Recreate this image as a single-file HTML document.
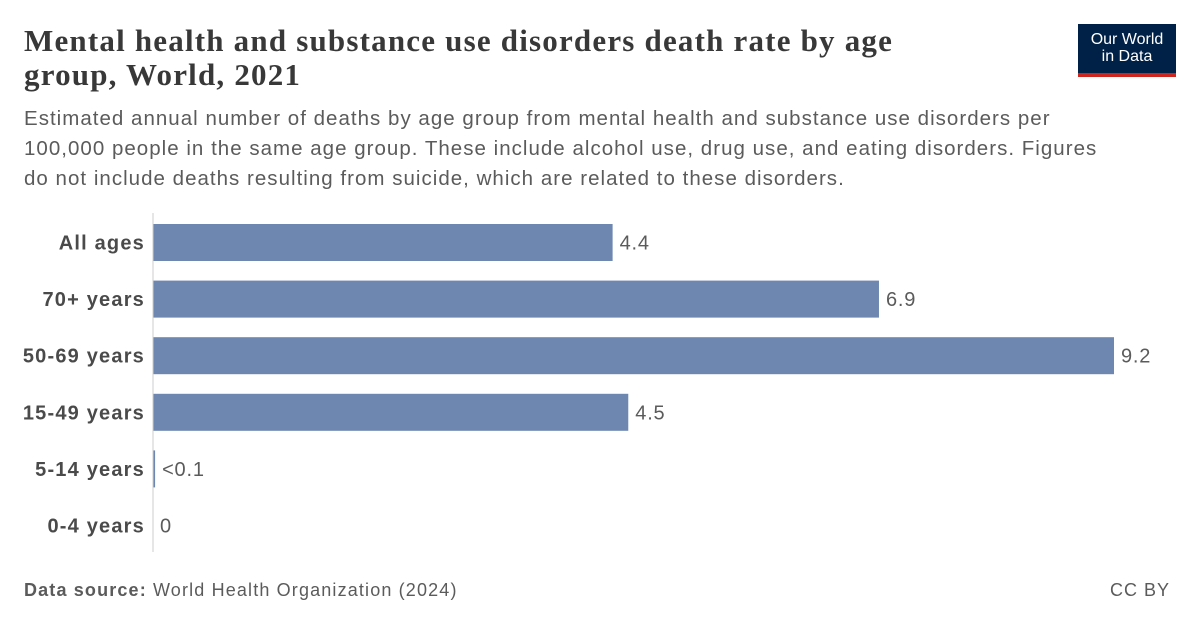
<!DOCTYPE html>
<html><head><meta charset="utf-8"><style>
body{margin:0;width:1200px;height:627px;background:#fff;position:relative;overflow:hidden;font-family:"Liberation Sans",sans-serif}
.t{position:absolute;white-space:nowrap}
</style></head><body>
<div class="t" style="left:24px;top:24px;font-family:'Liberation Serif',serif;font-size:31px;letter-spacing:1.2px;font-weight:bold;color:#383838;line-height:34px;white-space:nowrap;width:950px">Mental health and substance use disorders death rate by age<br>group, World, 2021</div>
<div class="t" style="left:24px;top:104px;font-size:20.5px;letter-spacing:1.02px;color:#5b5b5b;line-height:30px">Estimated annual number of deaths by age group from mental health and substance use disorders per<br>100,000 people in the same age group. These include alcohol use, drug use, and eating disorders. Figures<br>do not include deaths resulting from suicide, which are related to these disorders.</div>
<div style="position:absolute;left:1078px;top:24px;width:98px;height:53px;background:#002147">
<div style="color:#fff;font-size:16px;line-height:17px;text-align:center;padding-top:7px">Our World<br>in Data</div>
<div style="position:absolute;left:0;bottom:0;width:98px;height:4px;background:#ce261e"></div></div>
<svg id="c" width="1200" height="627" style="position:absolute;left:0;top:0"></svg>
<div class="t" style="left:24px;top:580px;font-size:18px;letter-spacing:1.15px;color:#5b5b5b"><b>Data source:</b> World Health Organization (2024)</div>
<div class="t" style="right:30px;top:580px;font-size:18px;letter-spacing:1px;color:#5b5b5b">CC BY</div>
<script>
const categories=["All ages","70+ years","50-69 years","15-49 years","5-14 years","0-4 years"];
const values=[4.4,6.95,9.2,4.55,0.02,0];
const labels=["4.4","6.9","9.2","4.5","<0.1","0"];
const svg=document.getElementById('c');const NS='http://www.w3.org/2000/svg';
const x0=153,x1=1114,xmax=9.2;
const x=v=>x0+v/xmax*(x1-x0);
const y=i=>224+i*56.6;
const bh=37;
function mk(t,a){const e=document.createElementNS(NS,t);for(const k in a)e.setAttribute(k,a[k]);svg.appendChild(e);return e;}
categories.forEach((c,i)=>{
 const r=mk('rect',{x:x0,y:y(i),width:Math.max(0,x(values[i])-x0),height:bh,fill:'#6d87b0'});
 
 
 const l=mk('text',{x:145,y:y(i)+bh/2+7,'text-anchor':'end','font-size':20,'letter-spacing':1.2,'font-weight':'bold',fill:'#4a4a4a','font-family':'Liberation Sans'});l.textContent=c;
 
 
 const v=mk('text',{x:x(values[i])+7,y:y(i)+bh/2+7,'font-size':20,'letter-spacing':0.8,fill:'#5b5b5b','font-family':'Liberation Sans'});v.textContent=labels[i];
 
 
});
const ax=mk('line',{x1:x0,x2:x0,y1:213,y2:552,stroke:'#ccc','stroke-width':1});


</script>
</body></html>
